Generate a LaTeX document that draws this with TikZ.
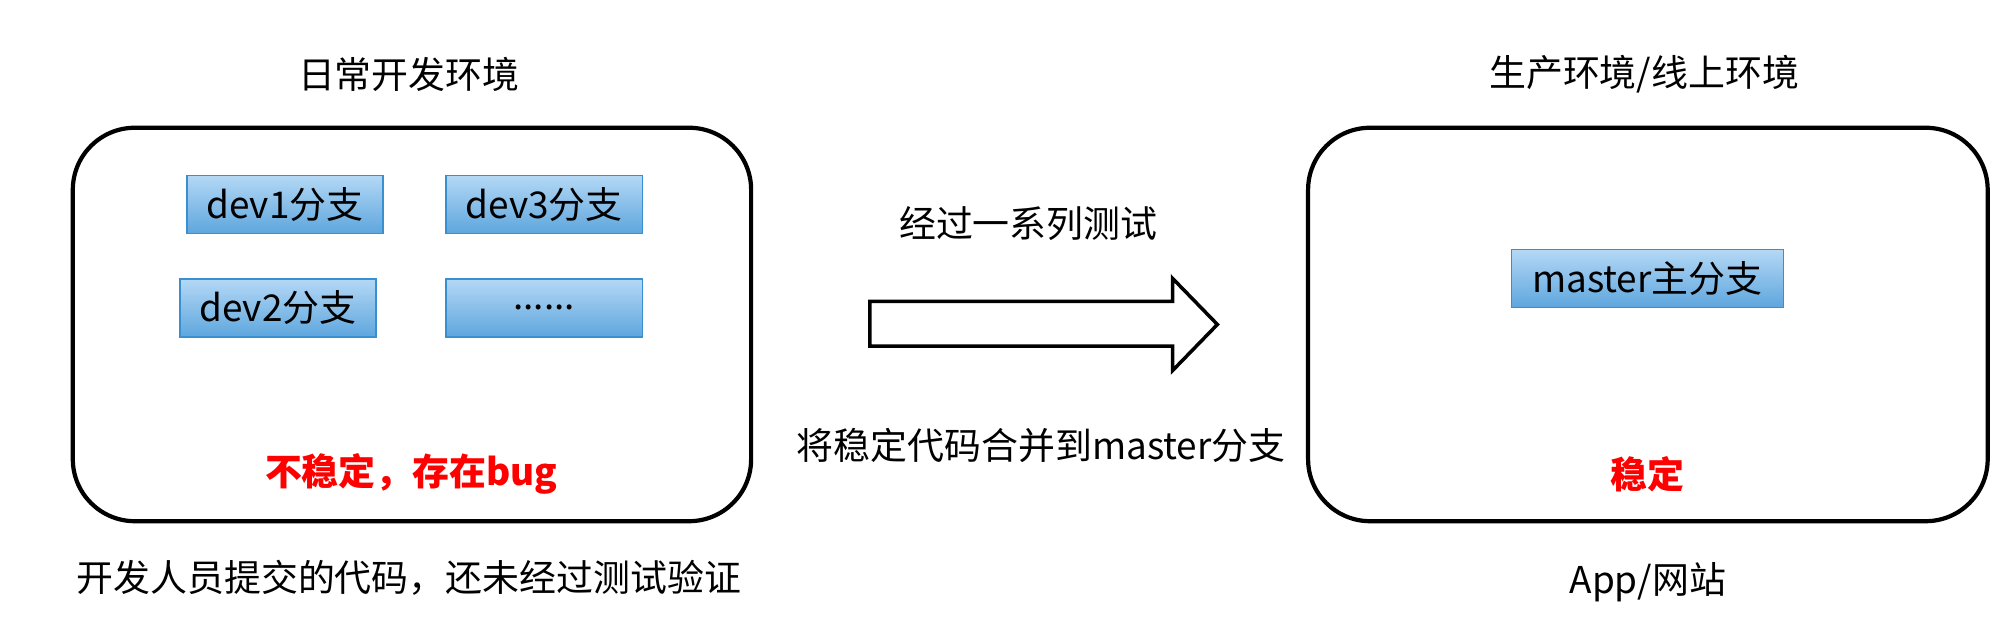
\documentclass[tikz,border=0pt]{standalone}
\usepackage{fontspec}
\setmainfont{Noto Sans CJK SC}
\usepackage{tikz}
\usetikzlibrary{positioning}
\definecolor{branchtop}{HTML}{B4D8F5}
\definecolor{branchbot}{HTML}{5EA6DE}
\definecolor{branchline}{HTML}{3A8FD0}
\definecolor{warnred}{HTML}{FF0000}
\tikzset{
  envbox/.style={draw, line width=1.2pt, rounded corners=0.62cm},
  branch/.style={draw=branchline, top color=branchtop, bottom color=branchbot,
    minimum width=1.96cm, minimum height=0.58cm, inner sep=0pt, font=\fontsize{10.5pt}{12pt}\selectfont},
  caption/.style={font=\fontsize{10.5pt}{12pt}\selectfont},
  state/.style={font=\bfseries\fontsize{10.5pt}{12pt}\selectfont, text=warnred}
}
\begin{document}
\begin{tikzpicture}[x=0.012774cm, y=-0.012774cm]
\useasboundingbox (0,0) rectangle (1568,503.4);

% development side
\draw[envbox] (57,100) rectangle (588,408);
\node[caption] (devtitle) at (320,58) {日常开发环境};
\node[branch] (dev1) at (223,160) {dev1分支};
\node[branch] (dev3) at (426,160) {dev3分支};
\node[branch] (dev2) at (217.5,241) {dev2分支};
\node[branch] (more) at (426,241) {......};
\node[state] (unstable) at (322,371) {不稳定，存在bug};
\node[caption] (devnote) at (320,452) {开发人员提交的代码，还未经过测试验证};

% merge arrow
\draw[line width=1pt] (681,236) -- (918,236) -- (918,218) -- (953,254)
  -- (918,290) -- (918,271) -- (681,271) -- cycle;
\node[caption] (testing) at (805,175) {经过一系列测试};
\node[caption] (merge) at (815,349) {将稳定代码合并到master分支};

% production side
\draw[envbox] (1024,100) rectangle (1556,408);
\node[caption] (prodtitle) at (1287,58) {生产环境/线上环境};
\node[branch, minimum width=2.72cm] (master) at (1289.5,218) {master主分支};
\node[state] (stable) at (1290,371) {稳定};
\node[caption] (prodnote) at (1290,456) {App/网站};
\end{tikzpicture}
\end{document}
